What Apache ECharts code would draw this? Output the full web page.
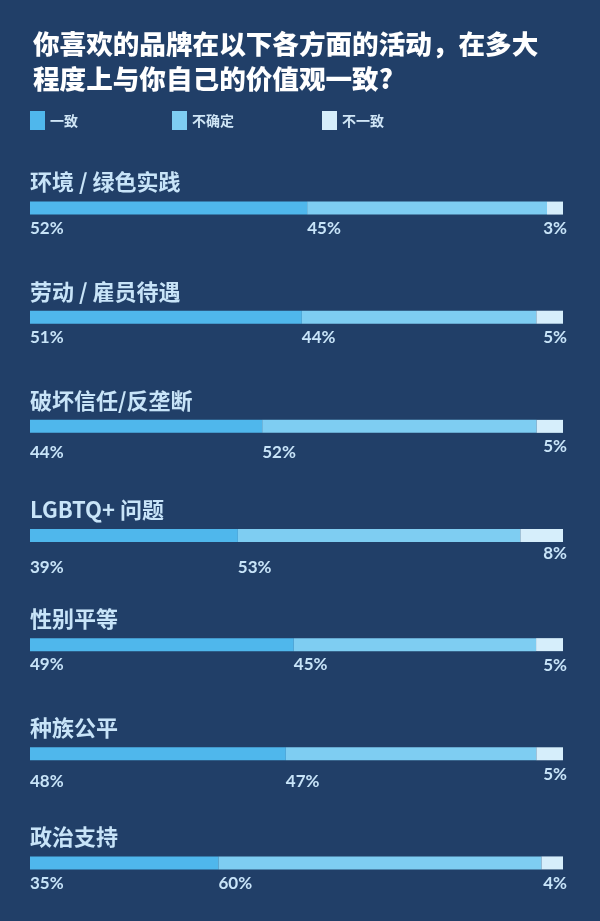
<!DOCTYPE html>
<html><head><meta charset="utf-8">
<script src="https://cdn.jsdelivr.net/npm/echarts@6/dist/echarts.min.js"></script>
<style>html,body{margin:0;padding:0;background:#213f68;}#c{width:600px;height:921px;}</style>
</head><body><div id="c"></div>
<script>
const titleText = '你喜欢的品牌在以下各方面的活动，在多大\n程度上与你自己的价值观一致?';
const categories = ['环境 / 绿色实践','劳动 / 雇员待遇','破坏信任/反垄断','LGBTQ+ 问题','性别平等','种族公平','政治支持'];
const seriesNames = ['一致','不确定','不一致'];
const agree = [52,51,44,39,49,48,35];
const unsure = [45,44,52,53,45,47,60];
const disagree = [3,5,5,8,5,5,4];

// styling: per-row vertical nudge of the percentage labels (as in the original layout)
const labelNudgeMain = [0,0,6,12,-1,7,0];
const labelNudgeLast = [0,0,0,-2,0,0,0];

const colors = ['#4fb7ec','#7ecdf2','#d6eefb'];
const labelColor = '#c8e4f8';
const font = "'Noto Sans CJK SC', sans-serif";
const numFont = "Lato, 'Noto Sans CJK SC', sans-serif";

const values = [agree, unsure, disagree];
const totals = categories.map((c,k)=>agree[k]+unsure[k]+disagree[k]);

const chart = echarts.init(document.getElementById('c'));
const legendLeft = [30,172,322];
chart.setOption({
  backgroundColor:'#213f68',
  animation:false,
  title:{text:titleText,left:28,top:21,textStyle:{color:'#ffffff',fontSize:26.6,fontWeight:900,fontFamily:font,lineHeight:35}},
  legend: seriesNames.map((n,i)=>({data:[n],left:legendLeft[i],top:111,padding:0,itemWidth:15,itemHeight:19,itemGap:0,icon:'rect',itemTextGap:8,
    textStyle:{color:'#d0e6f6',fontSize:14,fontWeight:'bold',fontFamily:font},selectedMode:false})),
  grid:{left:30,right:37,top:153.5,height:764},
  xAxis:{type:'value',min:0,max:100,show:false},
  yAxis:{type:'category',inverse:true,data:categories,axisLine:{show:false},axisTick:{show:false},splitLine:{show:false},
    axisLabel:{inside:true,margin:0,align:'left',verticalAlign:'bottom',padding:[0,0,15,0],color:labelColor,fontSize:22,fontWeight:'bold',fontFamily:font}},
  series: seriesNames.map((n,i)=>({
    name:n,type:'bar',stack:'t',barWidth:13,
    data: values[i].map((v,k)=>({
      value: v/totals[k]*100, raw: v,
      label:{position: i===2 ? ['100%', 27+labelNudgeLast[k]] : [0, 27+labelNudgeMain[k]]}
    })),
    itemStyle:{color:colors[i]},
    label:{show:true,formatter:p=>p.data.raw+'%',align:i===2?'right':'left',verticalAlign:'middle',
      offset:i===2?[4,0]:[0,0],color:labelColor,fontSize:17,fontWeight:'bold',fontFamily:numFont}
  }))
});
</script></body></html>
